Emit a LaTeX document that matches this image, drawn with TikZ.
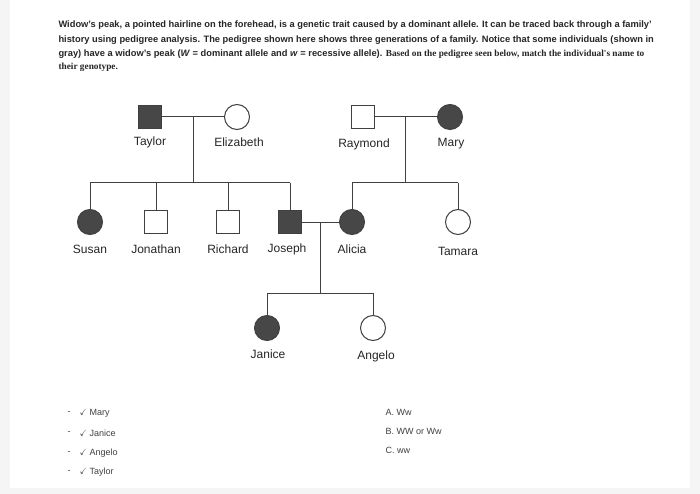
\documentclass[tikz,border=0pt]{standalone}
\usepackage{amssymb}
\usepackage{fontspec}
\setmainfont{Liberation Sans}
\begin{document}
\begin{tikzpicture}[x=1pt,y=-1pt,
  aff/.style={fill=black!72,draw=black!75,line width=1pt},
  un/.style={fill=white,draw=black!75,line width=1pt},
  sq/.style={rectangle,minimum size=23pt,inner sep=0pt},
  ci/.style={circle,minimum size=25pt,inner sep=0pt},
  ln/.style={draw=black!75,line width=1pt},
  lab/.style={font=\fontsize{12}{14}\selectfont,text=black!85},
  hd/.style={font=\fontsize{9.3}{11}\selectfont\bfseries,anchor=west,text=black!85},
  it/.style={font=\fontsize{9}{10}\selectfont,anchor=west,text=black!75}]
\fill[white!96!black] (0,0) rectangle (700,494);
\fill[white] (10,0) rectangle (690,488);
\node[hd] (t1) at (55,25) {Widow's peak, a pointed hairline on the forehead, is a genetic trait caused by a dominant allele. It can be traced back through a family'};
\node[hd] (t2) at (55,40) {history using pedigree analysis. The pedigree shown here shows three generations of a family. Notice that some individuals (shown in};
\node[hd] (t3) at (55,54) {gray) have a widow's peak (\textit{W} = dominant allele and \textit{w} = recessive allele). {\fontspec{Liberation Serif}Based on the pedigree seen below, match the individual's name to}};
\node[hd] (t4) at (55,67) {\fontspec{Liberation Serif}their genotype.};
% gen 1
\node[sq,aff] (taylor) at (150,117) {};
\node[ci,un] (eliz) at (237,117) {};
\node[sq,un] (ray) at (363,117) {};
\node[ci,aff] (mary) at (450,117) {};
\draw[ln] (taylor) -- (eliz);
\draw[ln] (ray) -- (mary);
\coordinate (m1) at (193,117); \coordinate (m2) at (405,117);
% gen 2
\node[ci,aff] (susan) at (90,222) {};
\node[sq,un] (jon) at (156,222) {};
\node[sq,un] (rich) at (228,222) {};
\node[sq,aff] (jos) at (290,222) {};
\node[ci,aff] (ali) at (352,222) {};
\node[ci,un] (tam) at (458,222) {};
\coordinate (s1) at (193,183); \coordinate (s2) at (405,183);
\draw[ln] (m1) -- (s1);
\draw[ln] (90,183) -- (290,183);
\foreach \n/\x in {susan/90,jon/156,rich/228,jos/290} \draw[ln] (\x,183) -- (\n);
\draw[ln] (m2) -- (s2);
\draw[ln] (352,183) -- (458,183);
\draw[ln] (352,183) -- (ali); \draw[ln] (458,183) -- (tam);
\draw[ln] (jos) -- (ali);
% gen 3
\node[ci,aff] (jan) at (267,328) {};
\node[ci,un] (ang) at (373,328) {};
\coordinate (m3) at (320,222);
\draw[ln] (m3) -- (320,293);
\draw[ln] (267,293) -- (373,293);
\draw[ln] (267,293) -- (jan); \draw[ln] (373,293) -- (ang);
% labels
\node[lab] (lt) at (150,142) {Taylor};
\node[lab] (le) at (239,142) {Elizabeth};
\node[lab] (lr) at (364,144) {Raymond};
\node[lab] (lm) at (451,144) {Mary};
\node[lab] (l1) at (90,249) {Susan};
\node[lab] (l2) at (156,249) {Jonathan};
\node[lab] (l3) at (228,249) {Richard};
\node[lab] (l4) at (287,249) {Joseph};
\node[lab] (l5) at (352,249) {Alicia};
\node[lab] (l6) at (458,251) {Tamara};
\node[lab] (l7) at (268,354) {Janice};
\node[lab] (l8) at (376,356) {Angelo};
% list
\foreach \y/\t [count=\i] in {413/Mary,433/Janice,453/Angelo,472/Taylor}{
  \node[it] (d\i) at (64,\y) {-};
  \node[it] (i\i) at (76,\y) {$\checkmark$ \t};
}
\node[it] (oa) at (382,412) {A. Ww};
\node[it] (ob) at (382,431) {B. WW or Ww};
\node[it] (oc) at (382,450) {C. ww};
\end{tikzpicture}
\end{document}
